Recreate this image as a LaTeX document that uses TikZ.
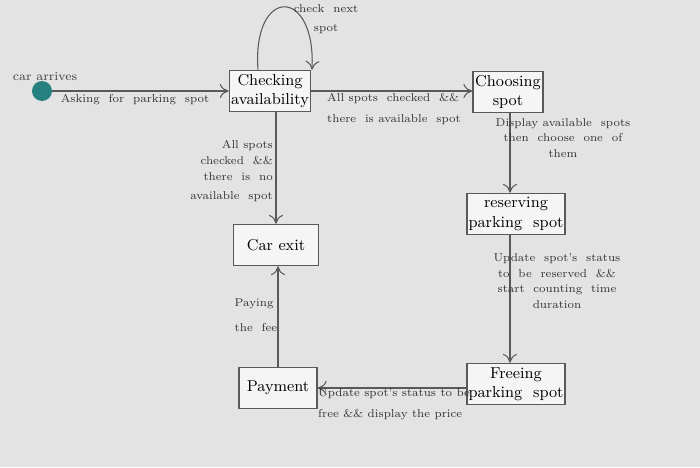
\documentclass[tikz,border=0pt]{standalone}
\usetikzlibrary{arrows.meta}
\begin{document}
\begin{tikzpicture}[x=0.02cm,y=-0.02cm,
  st/.style={draw=gray!70!black,line width=0.9pt,fill=white!92!gray,minimum width=#1,minimum height=0.82cm,align=center,inner sep=1pt,font=\small},
  st/.default=1.4cm,
  ar/.style={draw=gray!70!black,line width=0.6pt,-{To[length=5pt,width=8pt]}},
  lb/.style={font=\fontsize{6.5}{9}\selectfont,align=center,text=black!80}]
\useasboundingbox (0,0) rectangle (700,467);
\fill[gray!22] (0,0) rectangle (700,467);
\node[circle,fill=teal!70!gray,minimum size=0.4cm,inner sep=0] (start) at (42,91) {};
\node[font=\fontsize{7}{8}\selectfont,text=black!75] (ca) at (45,76) {car arrives};
\node[st=1.36cm] (chk) at (270,91) {Checking\\availability};
\node[st=1.4cm] (cho) at (508,92) {Choosing\\spot};
\node[st=1.6cm] (res) at (516,214) {reserving\\parking\ \ spot};
\node[st=1.7cm] (exit) at (276,245) {Car exit};
\node[st=1.56cm] (pay) at (278,388) {Payment};
\node[st=1.6cm] (fre) at (516,384) {Freeing\\parking\ \ spot};
\coordinate (l1) at (258,0);\coordinate (l2) at (312,0);
\draw[ar] (chk.north -| l1) .. controls (252,-14) and (316,-14) .. (chk.north -| l2);
\node[lb] at (326,19) {check\ \ next\\[2pt]spot};
\draw[ar] (start) -- (chk.west |- start);
\node[lb] at (135,100) {Asking\ \ for\ \ parking\ \ spot};
\draw[ar] (chk.east |- start) -- (cho.west |- start);
\node[lb,align=left] at (394,109) {All spots\ \ checked\ \ \&\&\\[3pt] there\ \ is available\ \ spot};
\coordinate (vc) at (276,0);
\draw[ar] (chk.south -| vc) -- (exit.north -| vc);
\node[lb,align=right,anchor=east] at (279,171) {All spots\\checked\ \ \&\&\\there\ \ is\ \ no\\[2pt]available\ \ spot};
\coordinate (vx) at (510,0);
\draw[ar] (cho.south -| vx) -- (res.north -| vx);
\node[lb] at (563,138) {Display\ available\ \ spots\\then\ \ choose\ \ one\ \ of\\them};
\draw[ar] (res.south -| vx) -- (fre.north -| vx);
\node[lb] at (557,281) {Update\ \ spot's\ \ status\\to\ \ be\ \ reserved\ \ \&\&\\start\ \ counting\ \ time\\duration};
\draw[ar] (fre.west |- pay) -- (pay.east);
\node[lb,align=left] at (394,404) {Update\ spot's\ status\ to\ be\\[3pt]free\ \&\& display\ the\ price};
\draw[ar] (pay.north) -- (exit.south -| pay.north);
\node[lb,align=left] at (256,315) {Paying\\[5pt]the\ \ fee};
\end{tikzpicture}
\end{document}
